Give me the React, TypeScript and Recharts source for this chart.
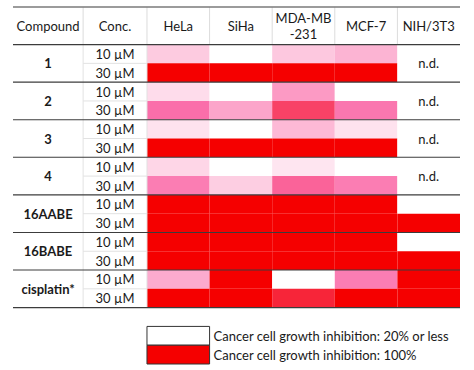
import React from 'react';
import { ScatterChart, Scatter, XAxis, YAxis, ReferenceArea, ReferenceLine } from 'recharts';

const compounds = ['1', '2', '3', '4', '16AABE', '16BABE', 'cisplatin*'];
const concs = ['10 µM', '30 µM'];
const cellLines = ['HeLa', 'SiHa', 'MDA-MB\n-231', 'MCF-7', 'NIH/3T3'];

// growth inhibition (%), one entry per compound x conc row; null = n.d.
const hela = [38, 100, 32, 70, 30, 100, 34, 65, 100, 100, 100, 100, 49, 100];
const siha = [15, 100, 15, 51, 15, 100, 15, 37, 100, 100, 100, 100, 100, 100];
const mda = [39, 100, 55, 82, 44, 100, 29, 73, 100, 100, 100, 100, 15, 90];
const mcf7 = [46, 100, 15, 67, 30, 100, 15, 65, 100, 100, 100, 100, 65, 100];
const nih = [null, null, null, null, null, null, null, null, 15, 100, 15, 100, 100, 100];

const legendValues = [20, 100];
const legendLabels = ['Cancer cell growth inhibition: 20% or less', 'Cancer cell growth inhibition: 100%'];

const series = [hela, siha, mda, mcf7, nih];

const WHITE = [255, 255, 255];
const PINK = [250, 110, 170];
const RED = [245, 0, 0];

const mix = (a: number[], b: number[], t: number) =>
  `rgb(${a.map((c, i) => Math.round(c + (b[i] - c) * t)).join(',')})`;

const heat = (v: number | null) => {
  if (v == null || v <= 20) return '#ffffff';
  if (v <= 70) return mix(WHITE, PINK, (v - 20) / 50);
  return mix(PINK, RED, Math.min(1, (v - 70) / 30));
};

// column edges in x units (data columns are 0..5)
const X_MIN = -2.14;
const CONC_X = -1.02;
const FONT = 'Lato, "Open Sans", sans-serif';

const CellText = (props: any) => {
  const { viewBox, text, bold, size = 13, anchor = 'middle' } = props;
  const { x, y, width, height } = viewBox;
  const lines = String(text).split('\n');
  const lh = size * 1.25;
  const tx = anchor === 'start' ? x + 4 : x + width / 2;
  const y0 = y + height / 2 - ((lines.length - 1) * lh) / 2;
  return (
    <text
      x={tx}
      y={y0}
      textAnchor={anchor}
      dominantBaseline="central"
      fontFamily={FONT}
      fontSize={size}
      fontWeight={bold ? 700 : 400}
      fill="#1a1a1a"
    >
      {lines.map((l, i) => (
        <tspan key={i} x={tx} y={y0 + i * lh}>
          {l}
        </tspan>
      ))}
    </text>
  );
};

const ndPoints = compounds
  .map((c, g) => ({ x: 4.5, y: g * 2 + 1, nd: nih[g * 2] == null }))
  .filter((p) => p.nd);

export default function App() {
  const rows = compounds.length * concs.length;
  return (
    <div style={{ position: 'absolute', left: 0, top: 0, background: '#fff' }}>
      <ScatterChart width={474} height={370} margin={{ top: 7, right: 14, bottom: 6, left: 13 }}>
        <XAxis type="number" dataKey="x" domain={[X_MIN, 5]} hide allowDataOverflow />
        <YAxis type="number" dataKey="y" domain={[-2, 17]} hide reversed allowDataOverflow />

        {/* heat cells */}
        {series.map((vals, ci) =>
          vals.map((v, r) => (
            <ReferenceArea
              key={`c${ci}-${r}`}
              x1={ci}
              x2={ci + 1}
              y1={r}
              y2={r + 1}
              fill={heat(v)}
              fillOpacity={1}
              stroke="none"
            />
          ))
        )}

        {/* header */}
        <ReferenceArea x1={X_MIN} x2={CONC_X} y1={-2} y2={0} fillOpacity={0} stroke="none"
          label={<CellText text="Compound" />} />
        <ReferenceArea x1={CONC_X} x2={0} y1={-2} y2={0} fillOpacity={0} stroke="none"
          label={<CellText text="Conc." />} />
        {cellLines.map((c, i) => (
          <ReferenceArea key={c} x1={i} x2={i + 1} y1={-2} y2={0} fillOpacity={0} stroke="none"
            label={<CellText text={c} />} />
        ))}

        {/* row labels */}
        {compounds.map((c, g) => (
          <ReferenceArea key={`cp${g}`} x1={X_MIN} x2={CONC_X} y1={g * 2} y2={g * 2 + 2}
            fillOpacity={0} stroke="none" label={<CellText text={c} bold />} />
        ))}
        {Array.from({ length: rows }, (_, r) => (
          <ReferenceArea key={`cc${r}`} x1={CONC_X} x2={0} y1={r} y2={r + 1}
            fillOpacity={0} stroke="none" label={<CellText text={concs[r % 2]} />} />
        ))}

        {/* light grid */}
        {[CONC_X, 0, 1, 2, 3, 4].map((x) => (
          <ReferenceLine key={`vh${x}`} segment={[{ x, y: -2 }, { x, y: 0 }]} stroke="#dcdcdc" strokeWidth={1} />
        ))}
        {[CONC_X, 0].map((x) => (
          <ReferenceLine key={`vb${x}`} segment={[{ x, y: 0 }, { x, y: rows }]} stroke="#e2e2e2" strokeWidth={1} />
        ))}
        {compounds.map((c, g) => (
          <ReferenceLine key={`sub${g}`} segment={[{ x: CONC_X, y: g * 2 + 1 }, { x: 0, y: g * 2 + 1 }]}
            stroke="#e2e2e2" strokeWidth={1} />
        ))}

        {/* rules */}
        <ReferenceLine y={-2} stroke="#7a7a7a" strokeWidth={1.6} />
        {Array.from({ length: compounds.length + 1 }, (_, g) => (
          <ReferenceLine key={`h${g}`} y={g * 2} stroke="#3c3c3c" strokeWidth={1.1} />
        ))}

        {/* legend */}
        {legendValues.map((v, i) => (
          <ReferenceArea key={`lg${i}`} x1={0} x2={1} y1={15 + i} y2={16 + i}
            fill={heat(v)} fillOpacity={1} stroke="#333" strokeWidth={1} />
        ))}
        {legendLabels.map((t, i) => (
          <ReferenceArea key={`lt${i}`} x1={1} x2={5} y1={15 + i} y2={16 + i} fillOpacity={0} stroke="none"
            label={<CellText text={t} anchor="start" size={13} />} />
        ))}

        <Scatter
          data={ndPoints}
          isAnimationActive={false}
          shape={(p: any) => (
            <text x={p.cx} y={p.cy} textAnchor="middle" dominantBaseline="central"
              fontFamily={FONT} fontSize={13} fill="#1a1a1a">
              n.d.
            </text>
          )}
        />
      </ScatterChart>
    </div>
  );
}
